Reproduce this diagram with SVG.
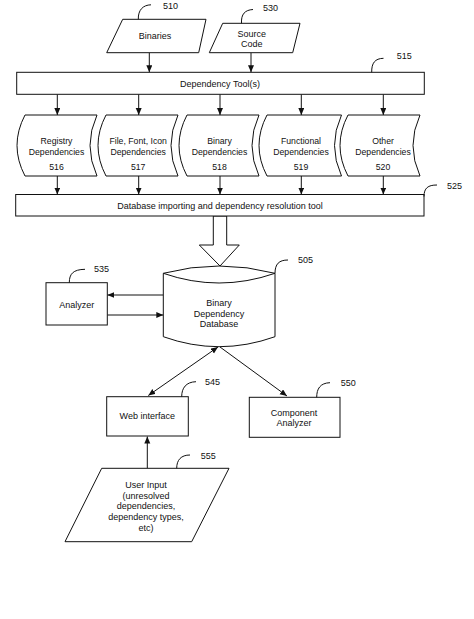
<svg xmlns="http://www.w3.org/2000/svg" width="474" height="619" viewBox="0 0 474 619">
<style>
.s{fill:#fff;stroke:#111;stroke-width:1}
.l{fill:none;stroke:#111;stroke-width:1}
.t{font-family:"Liberation Sans",Arial,sans-serif;font-size:9px;fill:#111;text-anchor:middle}
.d{font-size:8.7px}
.n{font-family:"Liberation Sans",Arial,sans-serif;font-size:9px;fill:#111}
</style>
<defs>
<marker id="a" markerUnits="userSpaceOnUse" markerWidth="8" markerHeight="8" refX="7" refY="3" orient="auto-start-reverse"><path d="M0,0 L7,3 L0,6 z" fill="#111"/></marker>
</defs>
<rect width="474" height="619" fill="#fff"/>
<g id="connectors">
<line class="l" x1="149.3" y1="52.7" x2="149.3" y2="72.3" marker-end="url(#a)"/>
<line class="l" x1="251" y1="52.7" x2="251" y2="72.3" marker-end="url(#a)"/>
<line class="l" x1="57.3" y1="94.3" x2="57.3" y2="115" marker-end="url(#a)"/>
<line class="l" x1="138.7" y1="94.3" x2="138.7" y2="115" marker-end="url(#a)"/>
<line class="l" x1="220" y1="94.3" x2="220" y2="115" marker-end="url(#a)"/>
<line class="l" x1="301.3" y1="94.3" x2="301.3" y2="115" marker-end="url(#a)"/>
<line class="l" x1="383.3" y1="94.3" x2="383.3" y2="115" marker-end="url(#a)"/>
<line class="l" x1="57.3" y1="176" x2="57.3" y2="194.5" marker-end="url(#a)"/>
<line class="l" x1="138.7" y1="176" x2="138.7" y2="194.5" marker-end="url(#a)"/>
<line class="l" x1="220" y1="176" x2="220" y2="194.5" marker-end="url(#a)"/>
<line class="l" x1="301.3" y1="176" x2="301.3" y2="194.5" marker-end="url(#a)"/>
<line class="l" x1="383.3" y1="176" x2="383.3" y2="194.5" marker-end="url(#a)"/>
<polygon class="s" points="213.3,216 226.7,216 226.7,245 239.3,245 220,266 199.3,245 213.3,245"/>
<line class="l" x1="163.3" y1="295" x2="107.3" y2="295" marker-end="url(#a)"/>
<line class="l" x1="107.3" y1="315" x2="163.3" y2="315" marker-end="url(#a)"/>
<line class="l" x1="218" y1="347" x2="148.3" y2="395.5" marker-start="url(#a)" marker-end="url(#a)"/>
<line class="l" x1="220" y1="347" x2="287" y2="396" marker-end="url(#a)"/>
<line class="l" x1="147.3" y1="468.3" x2="147.3" y2="436.5" marker-end="url(#a)"/>
</g>
<g id="n510">
<polygon class="s" points="122.7,19.3 206,19.3 198.7,52.7 106.7,52.7"/>
<text class="t" x="155" y="39">Binaries</text>
<path class="l" d="M138.3,19.3 C138,10 143,5 151,4.8"/>
<text class="n" x="163" y="8.8">510</text>
</g>
<g id="n530">
<polygon class="s" points="222.7,23.3 300,23.3 292.7,52.7 209.3,52.7"/>
<text class="t" x="251.7" y="36.5">Source</text>
<text class="t" x="251.7" y="46.5">Code</text>
<path class="l" d="M241.5,23.3 C241,14 245,10 253,9.5"/>
<text class="n" x="263" y="11">530</text>
</g>
<g id="n515">
<rect class="s" x="16.7" y="72.3" width="407.6" height="22"/>
<text class="t" x="220" y="87.2">Dependency Tool(s)</text>
<path class="l" d="M371.7,72.3 C371.5,63 375,58.5 383.5,58.3"/>
<text class="n" x="396.7" y="58.8">515</text>
</g>
<g id="n516">
<path class="s" d="M25,115 L97,115 Q83,145.5 97,176 L25,176 Q9,145.5 25,115 z"/>
<text class="t d" x="56.5" y="144">Registry</text>
<text class="t d" x="56.5" y="155">Dependencies</text>
<text class="t d" x="56.5" y="169.5">516</text>
</g>
<g id="n517">
<path class="s" d="M106,115 L178,115 Q164,145.5 178,176 L106,176 Q90,145.5 106,115 z"/>
<text class="t d" x="138.2" y="144">File, Font, Icon</text>
<text class="t d" x="138.2" y="155">Dependencies</text>
<text class="t d" x="138.2" y="169.5">517</text>
</g>
<g id="n518">
<path class="s" d="M187,115 L259,115 Q245,145.5 259,176 L187,176 Q171,145.5 187,115 z"/>
<text class="t d" x="219.5" y="144">Binary</text>
<text class="t d" x="219.5" y="155">Dependencies</text>
<text class="t d" x="219.5" y="170">518</text>
</g>
<g id="n519">
<path class="s" d="M267,115 L341.5,115 Q327.5,145.5 341.5,176 L267,176 Q251,145.5 267,115 z"/>
<text class="t d" x="301" y="144">Functional</text>
<text class="t d" x="301" y="155">Dependencies</text>
<text class="t d" x="301" y="170">519</text>
</g>
<g id="n520">
<path class="s" d="M348,115 L420,115 Q406,145.5 420,176 L348,176 Q332,145.5 348,115 z"/>
<text class="t d" x="383" y="144">Other</text>
<text class="t d" x="383" y="155">Dependencies</text>
<text class="t d" x="383" y="170">520</text>
</g>
<g id="n525">
<rect class="s" x="15.7" y="194.5" width="408.3" height="21.5"/>
<text class="t" x="220" y="209">Database importing and dependency resolution tool</text>
<path class="l" d="M424,196.5 C424,188 428,185 437,185"/>
<text class="n" x="447" y="188.5">525</text>
</g>
<g id="n505">
<path class="s" d="M163.3,273.3 Q219,258.7 275,273.3 L275,336.7 Q219,356.7 163.3,336.7 z"/>
<path class="l" d="M163.3,273.3 Q219,292.7 275,273.3"/>
<text class="t" x="219" y="305.5">Binary</text>
<text class="t" x="219" y="316.5">Dependency</text>
<text class="t" x="219" y="327.3">Database</text>
<path class="l" d="M275,273.3 C275,264 279,260 288,260"/>
<text class="n" x="298" y="263">505</text>
</g>
<g id="n535">
<rect class="s" x="46" y="282.7" width="61.3" height="42.3"/>
<text class="t" x="76.7" y="308.2">Analyzer</text>
<path class="l" d="M69.3,282.7 C69.3,274 73,269.5 85,269.3"/>
<text class="n" x="94" y="272">535</text>
</g>
<g id="n545">
<rect class="s" x="106.7" y="396.7" width="81.6" height="39.3"/>
<text class="t" x="147.3" y="419.2">Web interface</text>
<path class="l" d="M181.7,396.7 C181.7,388 186,382 196,381.7"/>
<text class="n" x="205" y="384.5">545</text>
</g>
<g id="n550">
<rect class="s" x="249.3" y="397.3" width="90.7" height="40"/>
<text class="t" x="294" y="415.5">Component</text>
<text class="t" x="294" y="425.5">Analyzer</text>
<path class="l" d="M316.7,397.3 C316.7,389 320,383 330,382.7"/>
<text class="n" x="340.7" y="385.5">550</text>
</g>
<g id="n555">
<polygon class="s" points="101.7,468.3 229,468.3 191.7,541.7 65,541.7"/>
<text class="t" x="146" y="488">User Input</text>
<text class="t" x="146" y="498.5">(unresolved</text>
<text class="t" x="146" y="509">dependencies,</text>
<text class="t" x="146" y="520">dependency types,</text>
<text class="t" x="146" y="531">etc)</text>
<path class="l" d="M176.7,468.3 C176.7,460 181,455 190,455"/>
<text class="n" x="200.7" y="458.5">555</text>
</g>
</svg>
